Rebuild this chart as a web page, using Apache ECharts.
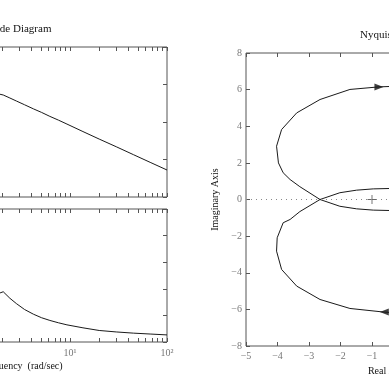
<!DOCTYPE html>
<html><head><meta charset="utf-8">
<script src="https://cdn.jsdelivr.net/npm/echarts@6/dist/echarts.min.js"></script>
<style>html,body{margin:0;padding:0;background:#fff}#c{width:389px;height:389px}</style>
</head><body><div id="c"></div>
<script>
// ---- Bode data ----
const freq     = [1.9, 2.05, 2.4, 2.8, 3.4, 4.2, 5.1, 6.2, 7.6, 9.3, 13.6, 20, 30, 45, 67, 100];
const magDb    = [14.8, 14.4, 12.8, 11.2, 9.2, 7.0, 5.1, 3.0, 1.0, -1.1, -5.1, -9.1, -13.2, -17.4, -21.5, -25.6];
const phaseDeg = [-142, -140, -151, -160, -170, -178, -184, -188.5, -192.5, -196, -201, -205.5, -208, -210, -211.5, -213];
const bodeTickVals  = [0.1,0.2,0.3,0.4,0.5,0.6,0.7,0.8,0.9,1,2,3,4,5,6,7,8,9,10,20,30,40,50,60,70,80,90,100];
const bodeLabelVals = [0.1, 1, 10, 100];
// ---- Nyquist data ----
const nyqUpperRe = [-0.3, -0.78, -1.70, -2.65, -3.39, -3.87, -4.03, -3.97, -3.82, -3.60, -3.29, -2.65, -2.02, -1.49, -0.96, -0.46, -0.3];
const nyqUpperIm = [6.18, 6.15, 6.01, 5.46, 4.73, 3.82, 2.91, 2.00, 1.46, 1.09, 0.70, 0, -0.37, -0.51, -0.58, -0.60, -0.60];
const nyqLowerRe = [-0.3, -0.61, -1.70, -2.65, -3.39, -3.87, -4.03, -4.01, -3.82, -3.60, -3.29, -2.65, -2.02, -1.49, -0.96, -0.46, -0.3];
const nyqLowerIm = [-6.18, -6.15, -5.95, -5.46, -4.73, -3.82, -2.82, -2.09, -1.27, -1.09, -0.66, 0, 0.37, 0.51, 0.58, 0.60, 0.60];
const arrowRe = [-0.78, -0.61];
const arrowIm = [6.15, -6.15];
const arrowRot = [-90, 90];
const critRe = [-1];
const critIm = [0];

const zip = (a, b) => a.map((v, i) => [v, b[i]]);
const SERIF = '"Liberation Serif", "DejaVu Serif", serif';
const FRAME = '#555';
const LINE = '#1a1a1a';
const LABEL = '#777';
const sup = {'-':'\u207B','0':'\u2070','1':'\u00B9','2':'\u00B2','3':'\u00B3'};
const minus = v => (v < 0 ? '\u2212' + (-v) : '' + v);

const tickInside = {show: true, inside: true, length: 4, lineStyle: {color: FRAME}};
const noLine = {show: false, onZero: false};

const chart = echarts.init(document.getElementById('c'), null, {renderer: 'canvas'});
chart.setOption({
  animation: false,
  backgroundColor: '#fff',
  title: [
    {text: 'Bode Diagram', left: -18, top: 19, textStyle: {fontFamily: SERIF, fontSize: 11, fontWeight: 'normal', color: '#111'}},
    {text: 'Nyquist Diagram', left: 355, top: 25, textStyle: {fontFamily: SERIF, fontSize: 11, fontWeight: 'normal', color: '#111'}}
  ],
  grid: [
    {left: -124, width: 291, top: 47, height: 150, show: true, borderColor: FRAME, borderWidth: 1, containLabel: false, outerBoundsMode: 'none'},
    {left: -124, width: 291, top: 209, height: 133, show: true, borderColor: FRAME, borderWidth: 1, containLabel: false, outerBoundsMode: 'none'},
    {left: 246, width: 283.5, top: 53, height: 293, show: true, borderColor: FRAME, borderWidth: 1, containLabel: false, outerBoundsMode: 'none'}
  ],
  xAxis: [
    {gridIndex: 0, type: 'log', logBase: 10, min: 0.1, max: 100, position: 'bottom',
     axisLine: noLine, axisLabel: {show: false}, splitLine: {show: false},
     axisTick: Object.assign({customValues: bodeTickVals}, tickInside)},
    {gridIndex: 0, type: 'log', logBase: 10, min: 0.1, max: 100, position: 'top',
     axisLine: noLine, axisLabel: {show: false}, splitLine: {show: false},
     axisTick: Object.assign({customValues: bodeTickVals}, tickInside)},
    {gridIndex: 1, type: 'log', logBase: 10, min: 0.1, max: 100, position: 'bottom',
     name: 'Frequency  (rad/sec)', nameLocation: 'middle', nameGap: 19,
     nameTextStyle: {fontFamily: SERIF, fontSize: 10, color: '#111'},
     axisLine: noLine, splitLine: {show: false},
     axisTick: Object.assign({customValues: bodeTickVals}, tickInside),
     axisLabel: {customValues: bodeLabelVals, fontFamily: SERIF, fontSize: 10, color: LABEL, margin: 6,
       formatter: v => '10' + String(Math.round(Math.log10(v))).split('').map(c => sup[c]).join('')}},
    {gridIndex: 1, type: 'log', logBase: 10, min: 0.1, max: 100, position: 'top',
     axisLine: noLine, axisLabel: {show: false}, splitLine: {show: false},
     axisTick: Object.assign({customValues: bodeTickVals}, tickInside)},
    {gridIndex: 2, type: 'value', min: -5, max: 4, interval: 1, position: 'bottom',
     name: 'Real Axis', nameLocation: 'middle', nameGap: 15,
     nameTextStyle: {fontFamily: SERIF, fontSize: 10, color: '#111'},
     axisLine: noLine, splitLine: {show: false}, axisTick: tickInside,
     axisLabel: {fontFamily: SERIF, fontSize: 10, color: LABEL, margin: 5, formatter: minus}},
    {gridIndex: 2, type: 'value', min: -5, max: 4, interval: 1, position: 'top',
     axisLine: noLine, splitLine: {show: false}, axisTick: tickInside, axisLabel: {show: false}}
  ],
  yAxis: [
    {gridIndex: 0, type: 'value', min: -40, max: 40, interval: 20, position: 'right',
     axisLine: noLine, axisLabel: {show: false}, splitLine: {show: false}, axisTick: tickInside},
    {gridIndex: 1, type: 'value', min: -225, max: 0, interval: 45, position: 'right',
     axisLine: noLine, axisLabel: {show: false}, splitLine: {show: false}, axisTick: tickInside},
    {gridIndex: 2, type: 'value', min: -8, max: 8, interval: 2, position: 'left',
     name: 'Imaginary Axis', nameLocation: 'middle', nameGap: 26, nameRotate: 90,
     nameTextStyle: {fontFamily: SERIF, fontSize: 10, color: '#111'},
     axisLine: noLine, splitLine: {show: false}, axisTick: tickInside,
     axisLabel: {fontFamily: SERIF, fontSize: 10, color: LABEL, margin: 4, formatter: minus}}
  ],
  series: [
    {type: 'line', xAxisIndex: 0, yAxisIndex: 0, data: zip(freq, magDb), showSymbol: false, symbol: 'none',
     lineStyle: {color: LINE, width: 1}},
    {type: 'line', xAxisIndex: 2, yAxisIndex: 1, data: zip(freq, phaseDeg), showSymbol: false, symbol: 'none',
     lineStyle: {color: LINE, width: 1}},
    {type: 'line', xAxisIndex: 4, yAxisIndex: 2, data: zip(nyqUpperRe, nyqUpperIm), symbol: 'none',
     lineStyle: {color: LINE, width: 1},
     markLine: {silent: true, symbol: 'none', label: {show: false},
       lineStyle: {color: '#888', type: [1, 4], width: 1}, data: [{yAxis: 0}]}},
    {type: 'line', xAxisIndex: 4, yAxisIndex: 2, data: zip(nyqLowerRe, nyqLowerIm), symbol: 'none',
     lineStyle: {color: LINE, width: 1}},
    {type: 'scatter', xAxisIndex: 4, yAxisIndex: 2, symbol: 'triangle', symbolSize: [7, 9],
     data: arrowRe.map((v, i) => ({value: [v, arrowIm[i]], symbolRotate: arrowRot[i]})),
     itemStyle: {color: '#111'}},
    {type: 'scatter', xAxisIndex: 4, yAxisIndex: 2, symbolSize: 9,
     symbol: 'path://M4.5,0h1v4.5h4.5v1h-4.5v4.5h-1v-4.5h-4.5v-1h4.5z',
     data: zip(critRe, critIm), itemStyle: {color: '#444'}}
  ]
});
</script>
</body></html>
